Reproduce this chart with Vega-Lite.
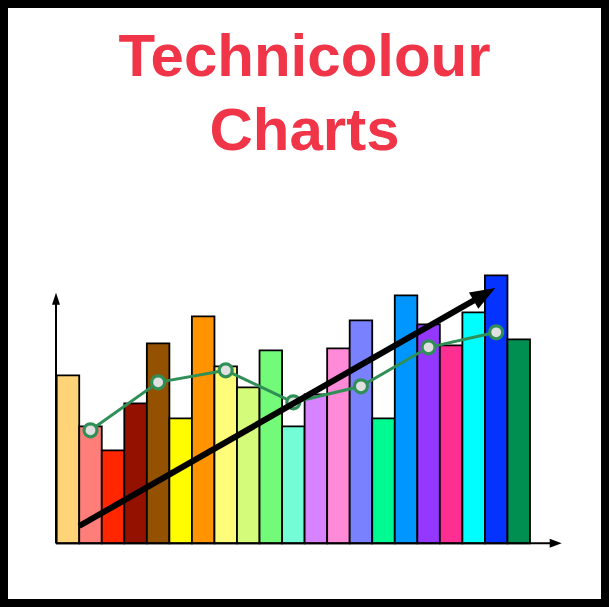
{
  "$schema": "https://vega.github.io/schema/vega-lite/v6.json",
  "width": 593,
  "height": 591,
  "autosize": "none",
  "padding": 8,
  "background": "#000000",
  "config": {"view": {"fill": "#ffffff", "stroke": null}},
  "title": {
    "text": ["Technicolour", "Charts"],
    "font": "Liberation Sans",
    "fontSize": 60,
    "fontWeight": "bold",
    "color": "#F03548",
    "lineHeight": 74,
    "anchor": "middle",
    "frame": "group",
    "baseline": "alphabetic",
    "offset": -137,
    "dy": 65
  },
  "datasets": {
    "bars": [
      {"bar": 1, "value": 16.8, "colour": "#FFD479"},
      {"bar": 2, "value": 11.7, "colour": "#FF7E79"},
      {"bar": 3, "value": 9.3, "colour": "#FF2600"},
      {"bar": 4, "value": 14.0, "colour": "#941100"},
      {"bar": 5, "value": 20.0, "colour": "#945200"},
      {"bar": 6, "value": 12.5, "colour": "#FFFB00"},
      {"bar": 7, "value": 22.7, "colour": "#FF9300"},
      {"bar": 8, "value": 17.7, "colour": "#FFFC79"},
      {"bar": 9, "value": 15.6, "colour": "#D4FB79"},
      {"bar": 10, "value": 19.3, "colour": "#73FA79"},
      {"bar": 11, "value": 11.7, "colour": "#73FCD6"},
      {"bar": 12, "value": 14.9, "colour": "#D783FF"},
      {"bar": 13, "value": 19.5, "colour": "#FF8AD8"},
      {"bar": 14, "value": 22.3, "colour": "#7A81FF"},
      {"bar": 15, "value": 12.5, "colour": "#00FA92"},
      {"bar": 16, "value": 24.8, "colour": "#0096FF"},
      {"bar": 17, "value": 21.9, "colour": "#9437FF"},
      {"bar": 18, "value": 19.8, "colour": "#FF2F92"},
      {"bar": 19, "value": 23.1, "colour": "#00FDFF"},
      {"bar": 20, "value": 26.8, "colour": "#0433FF"},
      {"bar": 21, "value": 20.4, "colour": "#008F51"}
    ],
    "average": [
      {"bar": 2, "value": 11.3},
      {"bar": 5, "value": 16.1},
      {"bar": 8, "value": 17.3},
      {"bar": 11, "value": 14.1},
      {"bar": 14, "value": 15.7},
      {"bar": 17, "value": 19.6},
      {"bar": 20, "value": 21.1}
    ],
    "trend": [
      {"bar": 1.5, "value": 1.73},
      {"bar": 19.48, "value": 24.9}
    ],
    "one": [{}]
  },
  "layer": [
    {
      "data": {"name": "bars"},
      "mark": {"type": "bar", "width": 22.54, "stroke": "#000000", "strokeWidth": 1.8},
      "encoding": {
        "x": {"field": "bar", "type": "quantitative", "scale": {"domain": [-1.66, 24.65], "nice": false, "zero": false, "padding": 0}, "axis": null},
        "y": {"field": "value", "type": "quantitative", "scale": {"domain": [-5.57, 53.53], "nice": false, "zero": false, "padding": 0}, "axis": null},
        "y2": {"datum": 0},
        "fill": {"field": "colour", "type": "nominal", "scale": null, "legend": null}
      }
    },
    {
      "data": {"name": "one"},
      "mark": {"type": "rule", "color": "#000000", "strokeWidth": 2},
      "encoding": {
        "x": {"datum": 0.47, "type": "quantitative"},
        "y": {"datum": 0, "type": "quantitative"},
        "y2": {"datum": 24.5}
      }
    },
    {
      "data": {"name": "one"},
      "mark": {"type": "rule", "color": "#000000", "strokeWidth": 2},
      "encoding": {
        "x": {"datum": 0.47, "type": "quantitative"},
        "x2": {"datum": 22.7},
        "y": {"datum": 0, "type": "quantitative"}
      }
    },
    {
      "data": {"name": "one"},
      "mark": {"type": "point", "shape": "M0,-1L0.67,1L-0.67,1Z", "size": 144, "filled": true, "color": "#000000", "opacity": 1},
      "encoding": {
        "x": {"datum": 0.47, "type": "quantitative"},
        "y": {"datum": 24.46, "type": "quantitative"}
      }
    },
    {
      "data": {"name": "one"},
      "mark": {"type": "point", "shape": "M0,-1L0.75,1L-0.75,1Z", "size": 144, "angle": 90, "filled": true, "color": "#000000", "opacity": 1},
      "encoding": {
        "x": {"datum": 22.64, "type": "quantitative"},
        "y": {"datum": 0, "type": "quantitative"}
      }
    },
    {
      "data": {"name": "average"},
      "mark": {"type": "line", "color": "#2F8F56", "strokeWidth": 3},
      "encoding": {
        "x": {"field": "bar", "type": "quantitative"},
        "y": {"field": "value", "type": "quantitative"}
      }
    },
    {
      "data": {"name": "average"},
      "mark": {"type": "point", "filled": true, "fill": "#E0E0E0", "stroke": "#2F8F56", "strokeWidth": 3.2, "size": 170, "opacity": 1},
      "encoding": {
        "x": {"field": "bar", "type": "quantitative"},
        "y": {"field": "value", "type": "quantitative"}
      }
    },
    {
      "data": {"name": "trend"},
      "mark": {"type": "line", "color": "#000000", "strokeWidth": 6, "strokeCap": "butt"},
      "encoding": {
        "x": {"field": "bar", "type": "quantitative"},
        "y": {"field": "value", "type": "quantitative"}
      }
    },
    {
      "data": {"name": "one"},
      "mark": {"type": "point", "shape": "M0,-1L0.75,1L-0.75,1Z", "size": 625, "angle": 60, "filled": true, "color": "#000000", "opacity": 1},
      "encoding": {
        "x": {"datum": 19.48, "type": "quantitative"},
        "y": {"datum": 24.9, "type": "quantitative"}
      }
    }
  ]
}
